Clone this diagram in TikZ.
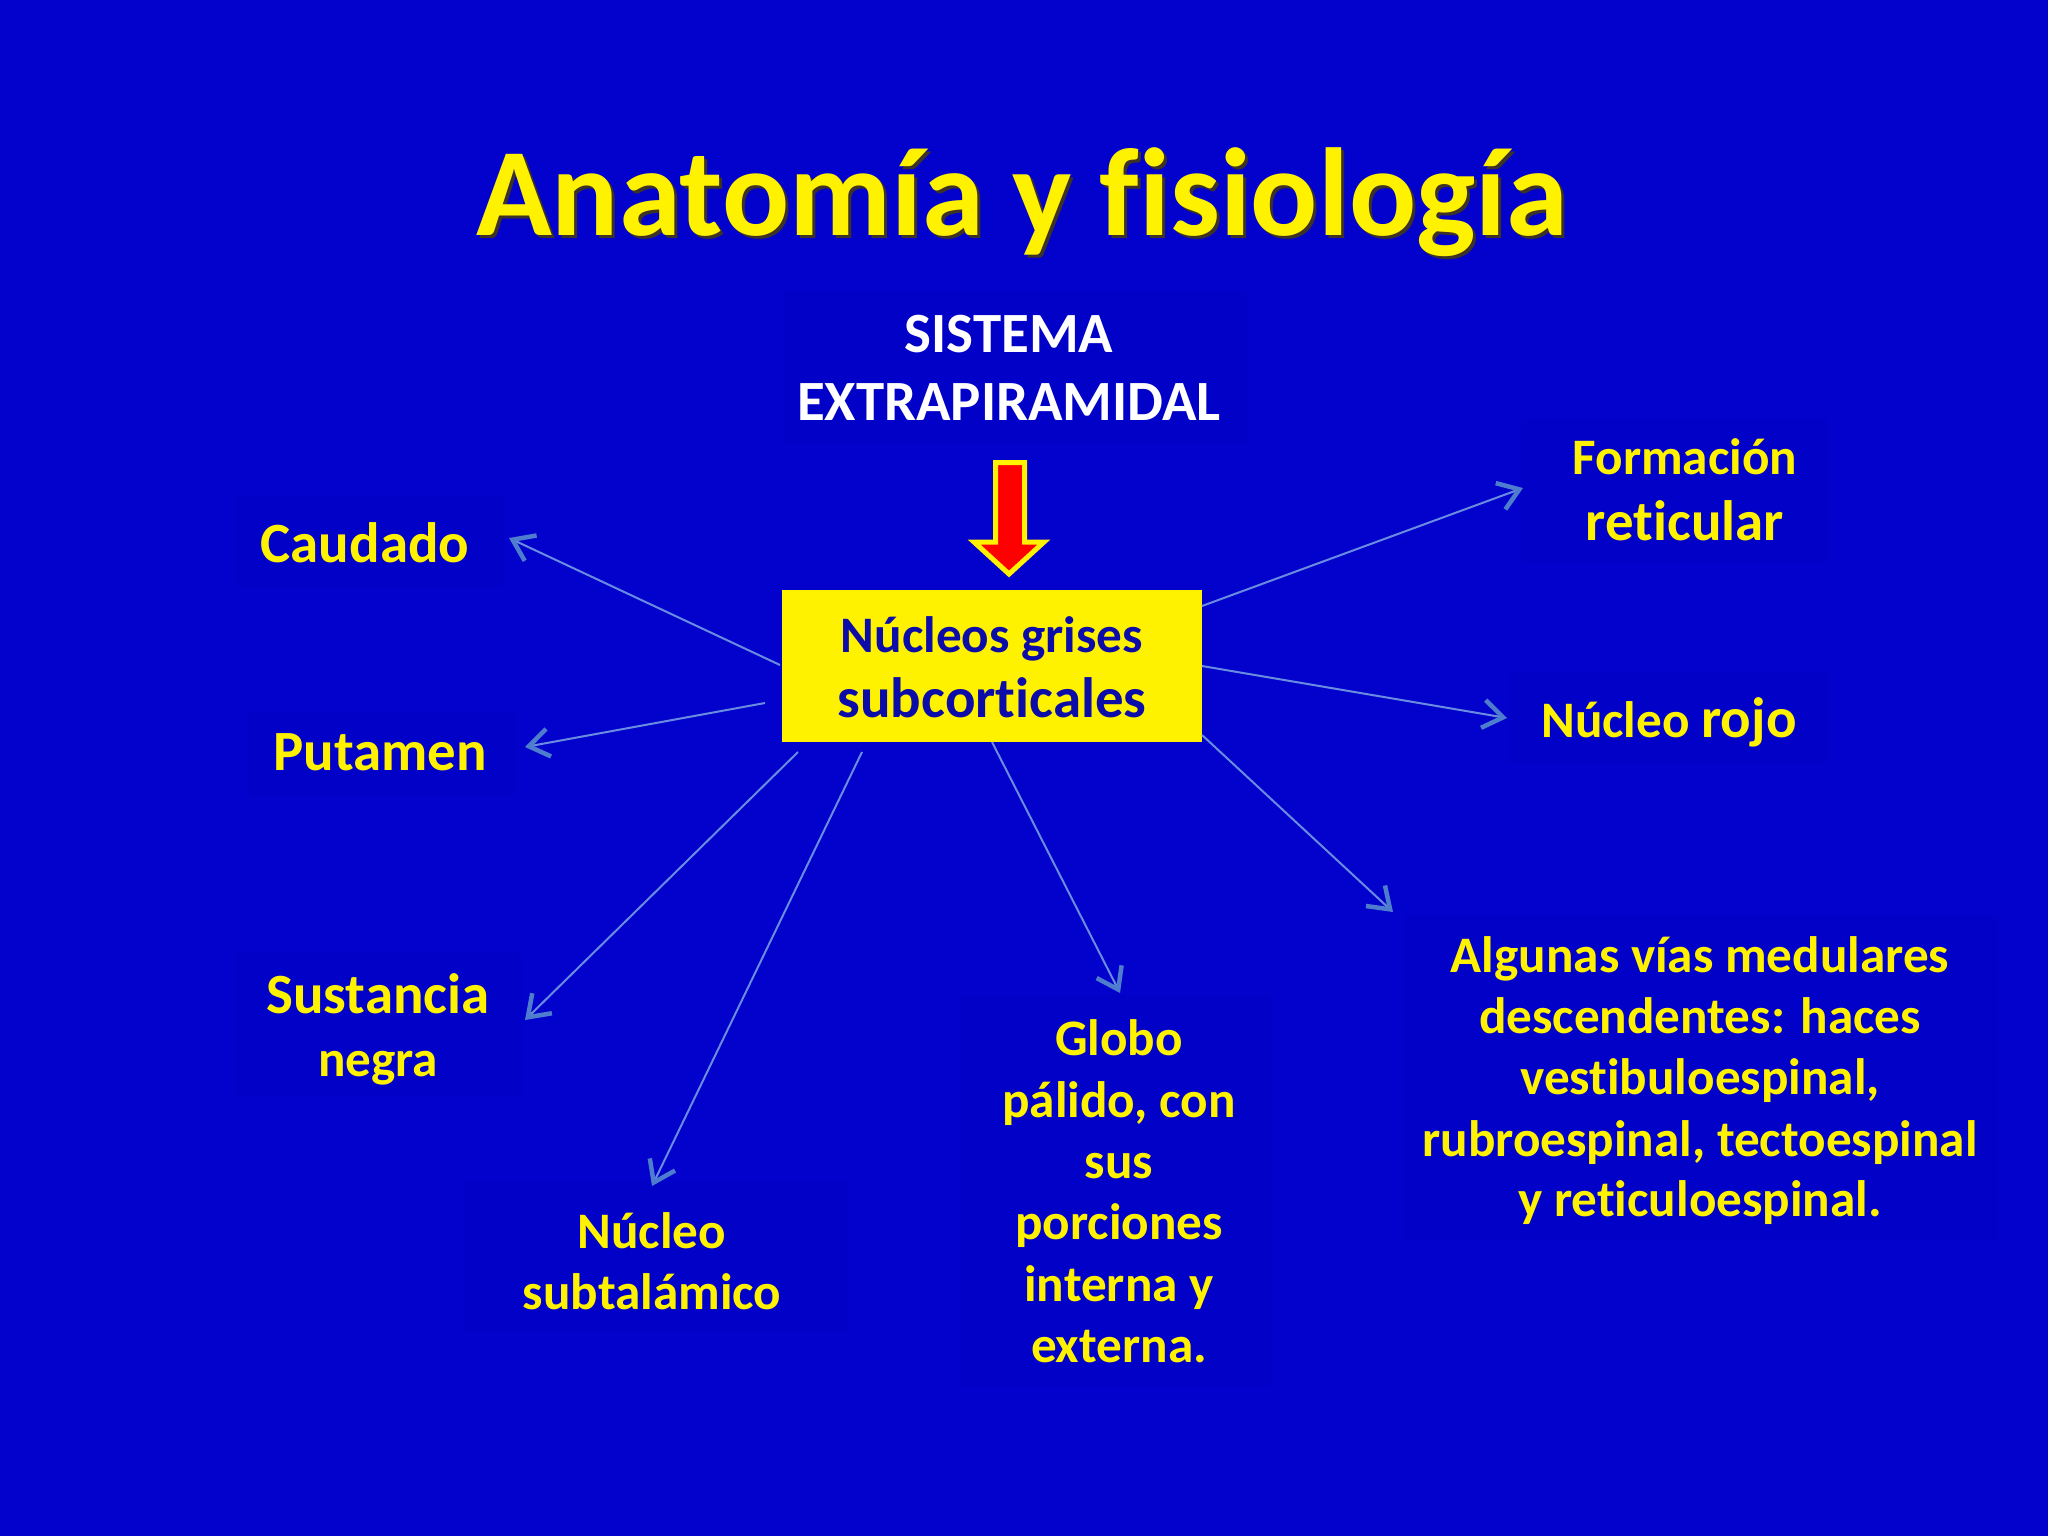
\documentclass[tikz,border=0pt]{standalone}
\usepackage{fontspec}
\setmainfont{Carlito}[Ligatures=NoCommon]
\usetikzlibrary{arrows.meta,calc}
\definecolor{bgblue}{RGB}{2,2,204}
\definecolor{panelblue}{RGB}{1,1,199}
\definecolor{navytext}{RGB}{12,12,168}
\definecolor{lineblue}{RGB}{105,140,225}
\definecolor{headblue}{RGB}{78,125,205}
\definecolor{shadowc}{RGB}{60,50,40}
\newcommand{\fsS}{\fontsize{51.2}{61.4}\selectfont}
\newcommand{\fsL}{\fontsize{56.9}{68}\selectfont}
\tikzset{
  lbl/.style={font=\bfseries\fsS, text=yellow, anchor=base, inner sep=0pt},
  lblL/.style={lbl, font=\bfseries\fsL},
  panel/.style={fill=panelblue, draw=none, inner sep=0pt, anchor=north west},
  conn/.style={draw=lineblue, line width=2pt,
    -{Straight Barb[length=20pt, width=28pt, line width=4.5pt, color=headblue]}},
}
\begin{document}
\begin{tikzpicture}[x=1pt,y=-1pt]
\useasboundingbox (0,0) rectangle (2048,1536);
\fill[bgblue] (0,0) rectangle (2048,1536);

% faint text-box panels
\node[panel, minimum width=463pt, minimum height=154pt] (pSis) at (784,290) {};
\node[panel, minimum width=268pt, minimum height=92pt] (pCau) at (235,496) {};
\node[panel, minimum width=268pt, minimum height=85pt] (pPut) at (248,712) {};
\node[panel, minimum width=287pt, minimum height=144pt] (pSus) at (235,953) {};
\node[panel, minimum width=385pt, minimum height=150pt] (pSub) at (464,1182) {};
\node[panel, minimum width=313pt, minimum height=391pt] (pGlo) at (960,995) {};
\node[panel, minimum width=594pt, minimum height=327pt] (pAlg) at (1404,914) {};
\node[panel, minimum width=307pt, minimum height=144pt] (pFor) at (1521,418) {};
\node[panel, minimum width=320pt, minimum height=91pt] (pRoj) at (1508,673) {};

% title
\node[anchor=base, inner sep=0pt, text=shadowc, font=\bfseries\fontsize{125.2}{150}\selectfont] (titleshadow) at (1025,238) {Anatomía y fisiología};
\node[anchor=base, inner sep=0pt, text=yellow, font=\bfseries\fontsize{125.2}{150}\selectfont] (title) at (1022,235) {Anatomía y fisiología};

% Sistema extrapiramidal
\node[lblL, text=white] (sis1) at (1009,352) {SISTEMA};
\node[lblL, text=white] (sis2) at (1009,420) {EXTRAPIRAMIDAL};

% red arrow
\draw[fill=red, draw=yellow, line width=5pt, line join=miter]
  (995.5,462.5) -- (1024.5,462.5) -- (1024.5,542) -- (1044,542) -- (1009,574)
  -- (974,542) -- (995.5,542) -- cycle;

% central box
\node[fill=yellow, draw=none, minimum width=420pt, minimum height=152pt, inner sep=0pt] (box) at (992,666) {};
\node[lbl, text=navytext] (box1) at (992,652) {Núcleos grises};
\node[lblL, text=navytext] (box2) at (992,717) {subcorticales};

% labels
\node[lblL] (cau) at (365,562) {Caudado};
\node[lblL] (put) at (380,770) {Putamen};
\node[lblL] (sus1) at (378,1013) {Sustancia};
\node[lbl] (sus2) at (378,1076) {negra};
\node[lbl] (sub1) at (652,1248) {Núcleo};
\node[lbl] (sub2) at (652,1309) {subtalámico};
\node[lbl] (glo1) at (1119,1055) {Globo};
\node[lbl] (glo2) at (1119,1117) {pálido, con};
\node[lbl] (glo3) at (1119,1178) {sus};
\node[lbl] (glo4) at (1119,1239) {porciones};
\node[lbl] (glo5) at (1119,1301) {interna y};
\node[lbl] (glo6) at (1119,1362) {externa.};
\node[lbl] (alg1) at (1700,972) {Algunas vías medulares};
\node[lbl] (alg2) at (1700,1033) {descendentes: haces};
\node[lbl] (alg3) at (1700,1094) {vestibuloespinal,};
\node[lbl] (alg4) at (1700,1156) {rubroespinal, tectoespinal};
\node[lbl] (alg5) at (1700,1216) {y reticuloespinal.};
\node[lbl] (for1) at (1685,474) {Formación};
\node[lblL] (for2) at (1685,540) {reticular};
\node[lbl] (roj) at (1669,737) {Núcleo {\fsL rojo}};

% connector ends
\coordinate (s1) at (780,665);  \coordinate (t1) at (509,538);
\coordinate (s2) at (765,703);  \coordinate (t2) at (525,747);
\coordinate (s3) at (798,752);  \coordinate (t3) at (525,1020);
\coordinate (s4) at (862,752);  \coordinate (t4) at (652,1186);
\coordinate (s5) at (992,742);  \coordinate (t5) at (1120,993);
\coordinate (s6) at (1202,606); \coordinate (t6) at (1523,488);
\coordinate (s7) at (1202,666); \coordinate (t7) at (1507,718);
\coordinate (s8) at (1202,735); \coordinate (t8) at (1393,912);

\foreach \i in {1,...,8} { \draw[conn] (s\i) -- (t\i); }
\end{tikzpicture}
\end{document}
